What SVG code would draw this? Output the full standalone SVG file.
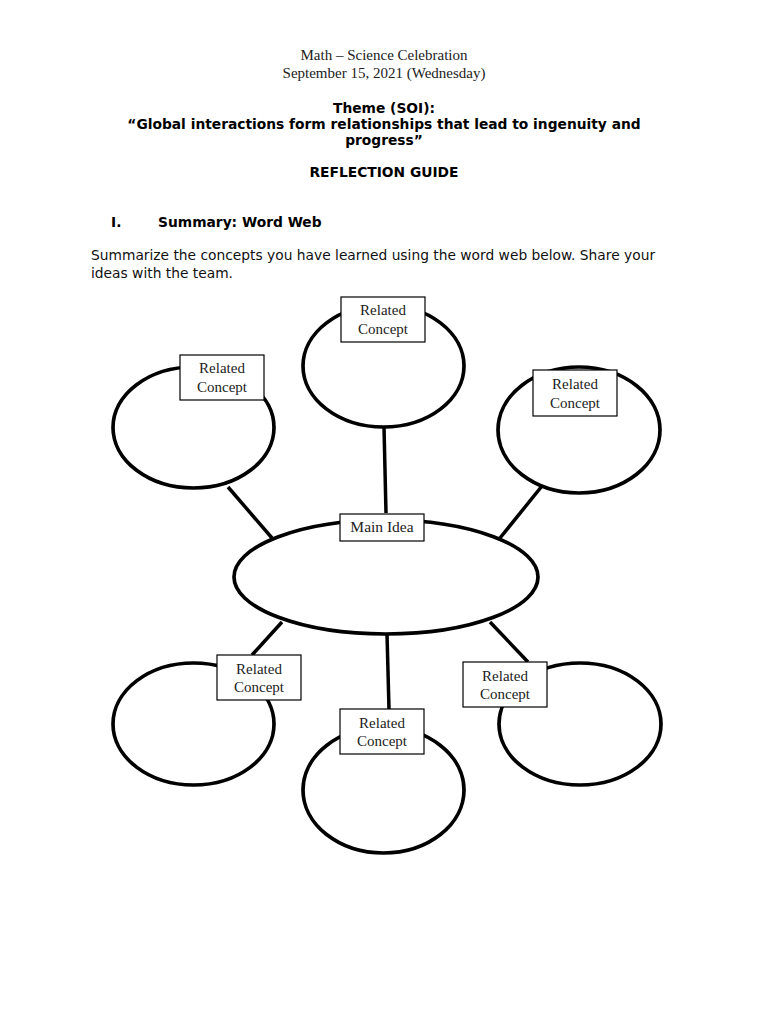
<svg xmlns="http://www.w3.org/2000/svg" width="768" height="1024" viewBox="0 0 768 1024">
<style>
.ser{font-family:"Liberation Serif","Times New Roman",serif;font-size:15px;fill:#222;}
.sb{font-family:"DejaVu Sans",Verdana,sans-serif;font-size:13.8px;font-weight:bold;fill:#000;}
.sn{font-family:"DejaVu Sans",Verdana,sans-serif;font-size:13.8px;fill:#111;}
.el{fill:#fff;stroke:#000;stroke-width:3.7;}
.bx{fill:#fff;stroke:#000;stroke-width:1.2;}
.lbl{font-family:"Liberation Serif","Times New Roman",serif;font-size:15px;fill:#222;text-anchor:middle;}
.cn{stroke:#000;stroke-width:3.5;fill:none;}
</style>
<rect width="768" height="1024" fill="#fff"/>
<g id="header">
<text class="ser" x="384" y="60" text-anchor="middle">Math – Science Celebration</text>
<text class="ser" x="384" y="78" text-anchor="middle">September 15, 2021 (Wednesday)</text>
<text class="sb" x="384" y="113" text-anchor="middle">Theme (SOI):</text>
<text class="sb" x="384" y="129" text-anchor="middle">“Global interactions form relationships that lead to ingenuity and</text>
<text class="sb" x="384" y="145" text-anchor="middle">progress”</text>
<text class="sb" x="384" y="177" text-anchor="middle">REFLECTION GUIDE</text>
<text class="sb" x="111" y="227">I.</text>
<text class="sb" x="158" y="227">Summary: Word Web</text>
<text class="sn" x="91" y="260">Summarize the concepts you have learned using the word web below. Share your</text>
<text class="sn" x="91" y="278">ideas with the team.</text>
</g>
<g id="connectors">
<line class="cn" x1="384" y1="427" x2="386" y2="513"/>
<line class="cn" x1="228" y1="487" x2="272" y2="538"/>
<line class="cn" x1="542" y1="486" x2="500" y2="538"/>
<line class="cn" x1="282" y1="622" x2="252" y2="655"/>
<line class="cn" x1="387" y1="634" x2="389" y2="709"/>
<line class="cn" x1="490" y1="622" x2="528" y2="662"/>
</g>
<g id="main">
<ellipse class="el" cx="386" cy="577" rx="152" ry="57"/>
<rect class="bx" x="340" y="514" width="84" height="27"/>
<text class="lbl" x="382" y="532" style="font-size:15.5px">Main Idea</text>
</g>
<g id="top-center">
<ellipse class="el" cx="383.5" cy="366" rx="80.5" ry="61"/>
<rect class="bx" x="341" y="297" width="84" height="45"/>
<text class="lbl" x="383" y="315">Related</text>
<text class="lbl" x="383" y="334">Concept</text>
</g>
<g id="top-left">
<ellipse class="el" cx="193.5" cy="427.5" rx="80.5" ry="60.5"/>
<rect class="bx" x="180" y="355" width="84" height="45"/>
<text class="lbl" x="222" y="373">Related</text>
<text class="lbl" x="222" y="392">Concept</text>
</g>
<g id="top-right">
<ellipse class="el" cx="579" cy="430" rx="81" ry="63"/>
<rect class="bx" x="533" y="370" width="84" height="46"/>
<text class="lbl" x="575" y="389">Related</text>
<text class="lbl" x="575" y="408">Concept</text>
</g>
<g id="bottom-left">
<ellipse class="el" cx="193.5" cy="724" rx="80.5" ry="61"/>
<rect class="bx" x="217" y="655" width="84" height="45"/>
<text class="lbl" x="259" y="674">Related</text>
<text class="lbl" x="259" y="692">Concept</text>
</g>
<g id="bottom-center">
<ellipse class="el" cx="383.5" cy="790" rx="80.5" ry="63"/>
<rect class="bx" x="340" y="709" width="84" height="45"/>
<text class="lbl" x="382" y="728">Related</text>
<text class="lbl" x="382" y="746">Concept</text>
</g>
<g id="bottom-right">
<ellipse class="el" cx="580" cy="724" rx="81" ry="61"/>
<rect class="bx" x="463" y="662" width="84" height="45"/>
<text class="lbl" x="505" y="681">Related</text>
<text class="lbl" x="505" y="699">Concept</text>
</g>
</svg>
